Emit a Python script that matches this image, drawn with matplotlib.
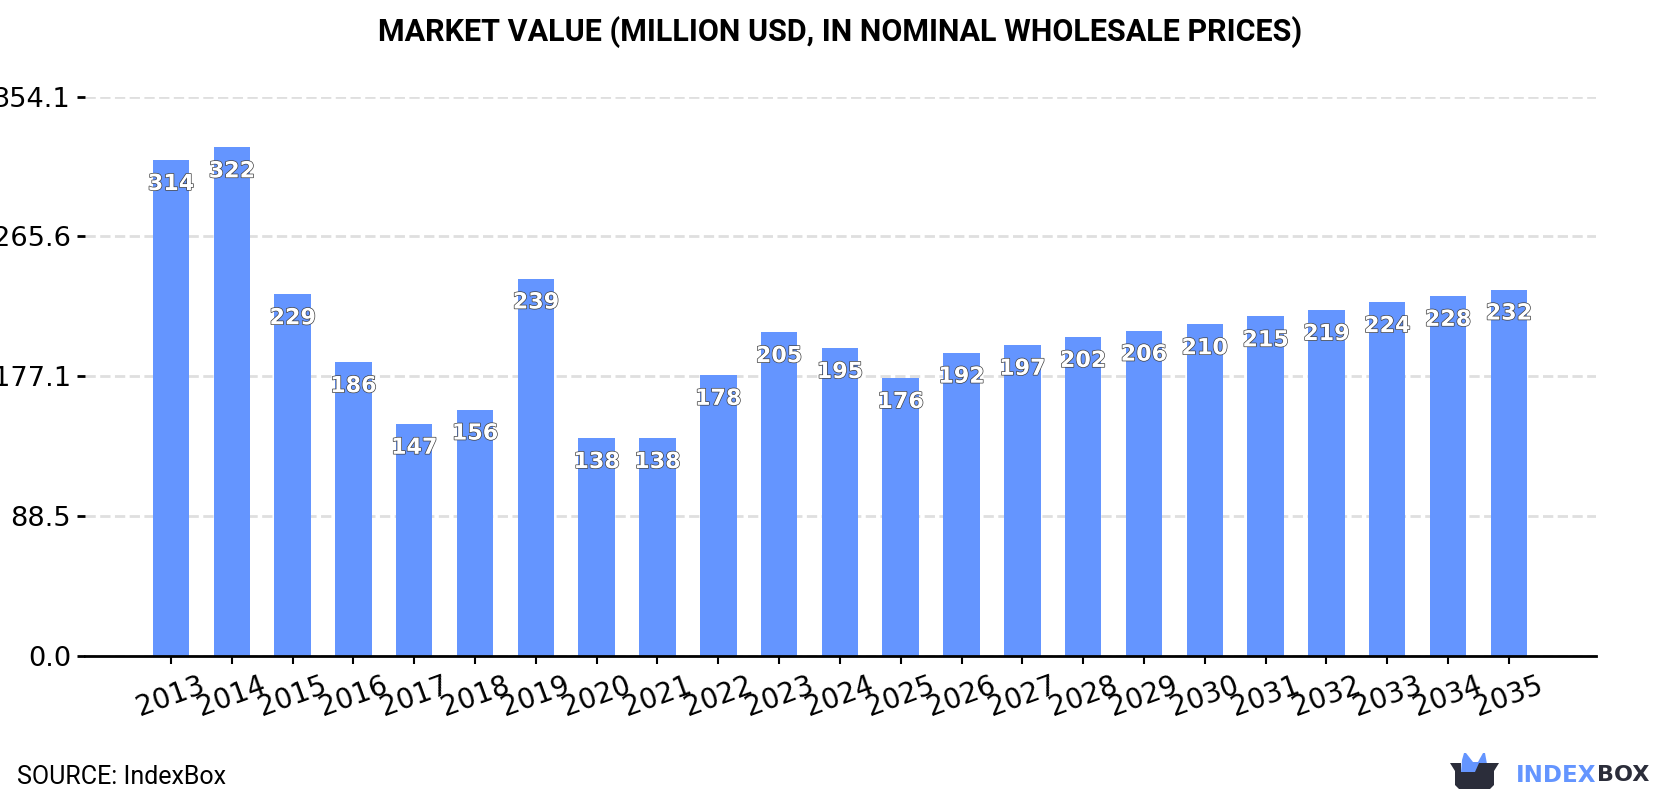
import matplotlib
matplotlib.use("Agg")
import matplotlib.pyplot as plt
import matplotlib.patheffects as pe
from matplotlib.patches import Polygon

# -------------------------
# Chart data
# -------------------------
years = [2013, 2014, 2015, 2016, 2017, 2018, 2019, 2020, 2021, 2022, 2023, 2024,
         2025, 2026, 2027, 2028, 2029, 2030, 2031, 2032, 2033, 2034, 2035]
values = [314, 322, 229, 186, 147, 156, 239, 138, 138, 178, 205, 195,
          176, 192, 197, 202, 206, 210, 215, 219, 224, 228, 232]
y_ticks = [0.0, 88.5, 177.1, 265.6, 354.1]

W, H = 1680, 800
BLUE = "#6495ff"
DARK = "#2b2d3a"

fig = plt.figure(figsize=(W / 100, H / 100), dpi=100)
ax = fig.add_axes([85 / W, 1 - 656 / H, (1596 - 85) / W, (656 - 96.7) / H])

positions = list(range(len(years)))
ax.bar(positions, values, width=0.6, color=BLUE, zorder=2)

# value labels sit just under the top of each bar
for i, v in enumerate(values):
    ax.annotate(str(v), (i, v), xytext=(0, -24), textcoords="offset pixels",
                ha="center", va="center", fontsize=16, fontweight="bold",
                color="white", zorder=4,
                path_effects=[pe.withStroke(linewidth=1.0, foreground="#404040")])

ax.set_xlim(-1.414, 23.434)
ax.set_ylim(0, 354.1)
ax.set_xticks(positions)
ax.set_xticklabels(years, rotation=20, fontsize=20)
ax.set_yticks(y_ticks)
ax.set_yticklabels([f"{t:.1f}" for t in y_ticks], fontsize=19.6)
ax.tick_params(axis="y", length=6, width=2, pad=4)
ax.tick_params(axis="x", length=6, width=1.5, pad=5)
ax.grid(axis="y", color="#dfdfdf", linestyle="--", linewidth=2, zorder=1)
ax.set_axisbelow(True)

for side in ["top", "right", "left"]:
    ax.spines[side].set_visible(False)
ax.spines["bottom"].set_linewidth(2)

fig.text(0.5, 1 - 32.5 / H, "MARKET VALUE (MILLION USD, IN NOMINAL WHOLESALE PRICES)",
         ha="center", va="center", family="Roboto", fontweight="bold", fontsize=22)
fig.text(17 / W, 1 - 777 / H, "SOURCE: IndexBox", ha="left", va="center",
         family="Roboto", fontsize=18)

# -------------------------
# Logo
# -------------------------
logo = fig.add_axes([0, 0, 1, 1], facecolor="none")
logo.set_xlim(0, W)
logo.set_ylim(H, 0)
logo.axis("off")

logo.add_patch(Polygon([(1461, 772), (1462, 760), (1464, 753), (1466, 753), (1473, 762),
                        (1478, 762), (1483, 753), (1485, 753), (1487, 764), (1478, 774),
                        (1461, 774)],
                       closed=True, facecolor=BLUE, edgecolor="none"))
logo.add_patch(Polygon([(1450, 763), (1461, 763), (1461, 772), (1475, 772), (1479, 763),
                        (1499, 763), (1494, 771), (1494, 785), (1490, 789), (1459, 789),
                        (1455, 785), (1455, 771)],
                       closed=True, facecolor=DARK, edgecolor="none"))
logo.text(1516, 775, "INDEX", ha="left", va="center", family="DejaVu Sans", fontweight="bold",
          fontsize=16.6, color=BLUE)
logo.text(1597, 775, "BOX", ha="left", va="center", family="DejaVu Sans", fontweight="bold",
          fontsize=16, color=DARK)

fig.savefig("out.png", dpi=100, facecolor="white")
